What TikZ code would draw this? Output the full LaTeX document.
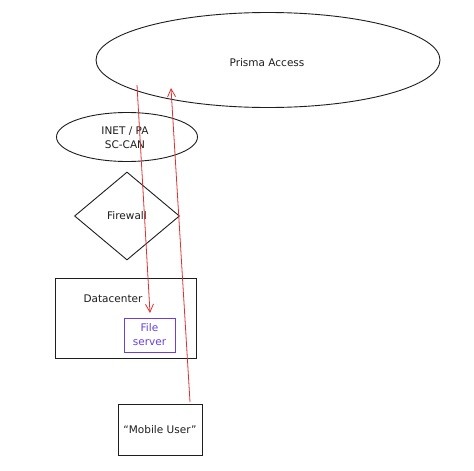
\documentclass[tikz,border=0pt]{standalone}
\usepackage{fontspec}
\setmainfont{DejaVu Sans}
\usetikzlibrary{shapes.geometric,arrows.meta}
\definecolor{flowred}{RGB}{224,49,49}
\definecolor{fsviolet}{RGB}{103,65,217}
\definecolor{ink}{RGB}{30,30,30}
\begin{document}
\begin{tikzpicture}[x=1pt,y=-1pt,
  shape line/.style={draw=ink,line width=0.9pt},
  lbl/.style={font=\fontsize{10.5}{14}\selectfont,text=ink,align=center},
  flow/.style={draw=flowred,line width=0.8pt,-{Straight Barb[length=8pt,width=8pt]}}]
\useasboundingbox (0,0) rectangle (474,471);
\fill[white] (0,0) rectangle (474,471);
% Prisma Access
\node[shape line,ellipse,minimum width=344pt,minimum height=95pt] (pa) at (268,60) {};
\node[lbl] (palbl) at (267,63) {Prisma Access};
% INET
\node[shape line,ellipse,minimum width=141pt,minimum height=49pt] (inet) at (127,137) {};
\node[lbl] (inetlbl) at (125,138) {INET / PA\\SC-CAN};
% Firewall
\node[shape line,diamond,minimum width=105pt,minimum height=88pt,inner sep=0pt] (fw) at (127,216) {};
\node[lbl] (fwlbl) at (127,216) {Firewall};
% Datacenter
\node[shape line,rectangle,minimum width=141pt,minimum height=80pt] (dc) at (125.5,318) {};
\node[lbl] (dclbl) at (113,299) {Datacenter};
% File server
\node[draw=fsviolet,line width=0.8pt,rectangle,minimum width=51pt,minimum height=34pt,inner sep=1pt,lbl,text=fsviolet] (fs) at (149.5,335) {File\\server};
% Mobile User
\node[shape line,rectangle,minimum width=84pt,minimum height=51pt,lbl] (mu) at (160,429.5) {``Mobile User''};
% flows
\coordinate (f1s) at (137,85);
\coordinate (f1e) at (150,313);
\coordinate (f2s) at (190,402);
\coordinate (f2e) at (171,88);
\draw[flow] (f1s) -- (f1e);
\draw[flow] (f2s) -- (f2e);
\end{tikzpicture}
\end{document}
